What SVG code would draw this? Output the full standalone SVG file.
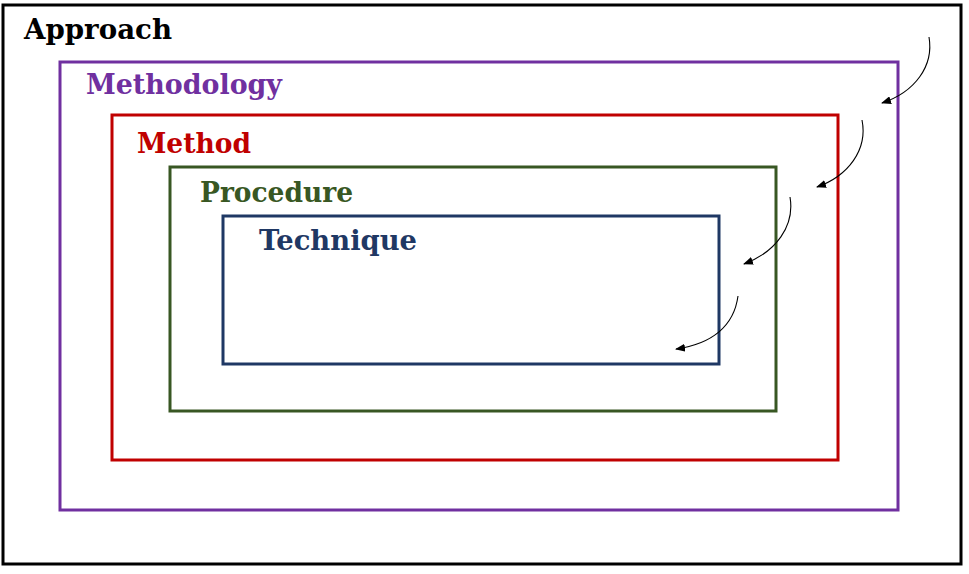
<svg xmlns="http://www.w3.org/2000/svg" width="969" height="574" viewBox="0 0 969 574">
<style>
.box{fill:none;stroke-width:3}
.lbl{font-family:"DejaVu Serif","Liberation Serif",serif;font-weight:bold;font-size:27px}
.conn{fill:none;stroke:#000;stroke-width:1.1;marker-end:url(#ah)}
</style>
<defs>
<marker id="ah" viewBox="0 0 10 8" refX="9" refY="4" markerWidth="10" markerHeight="8" markerUnits="userSpaceOnUse" orient="auto">
<path d="M0,0 L10,4 L0,8 Z" fill="#000"/>
</marker>
</defs>
<rect width="969" height="574" fill="#fff"/>
<g id="approach">
<rect class="box" x="3" y="5" width="958" height="559" stroke="#000"/>
<text class="lbl" x="24" y="39" fill="#000" textLength="148" lengthAdjust="spacingAndGlyphs">Approach</text>
</g>
<g id="methodology">
<rect class="box" x="60" y="62" width="838" height="448" stroke="#7030A0"/>
<text class="lbl" x="86" y="94" fill="#7030A0" textLength="196" lengthAdjust="spacingAndGlyphs">Methodology</text>
</g>
<g id="method">
<rect class="box" x="112" y="115" width="726" height="345" stroke="#C00000"/>
<text class="lbl" x="137" y="153" fill="#C00000" textLength="114" lengthAdjust="spacingAndGlyphs">Method</text>
</g>
<g id="procedure">
<rect class="box" x="170" y="167" width="606" height="244" stroke="#385723"/>
<text class="lbl" x="200" y="202" fill="#385723" textLength="153" lengthAdjust="spacingAndGlyphs">Procedure</text>
</g>
<g id="technique">
<rect class="box" x="223" y="216" width="496" height="148" stroke="#1F3864"/>
<text class="lbl" x="259" y="250" fill="#1F3864" textLength="158" lengthAdjust="spacingAndGlyphs">Technique</text>
</g>
<g id="connectors">
<path class="conn" d="M929,37 C934,66 915,92 882,103"/>
<path class="conn" d="M862,120 C868,150 848,176 817,187"/>
<path class="conn" d="M790,197 C795,226 776,252 744,264"/>
<path class="conn" d="M738,296 C734,326 712,344 676,349"/>
</g>
</svg>
